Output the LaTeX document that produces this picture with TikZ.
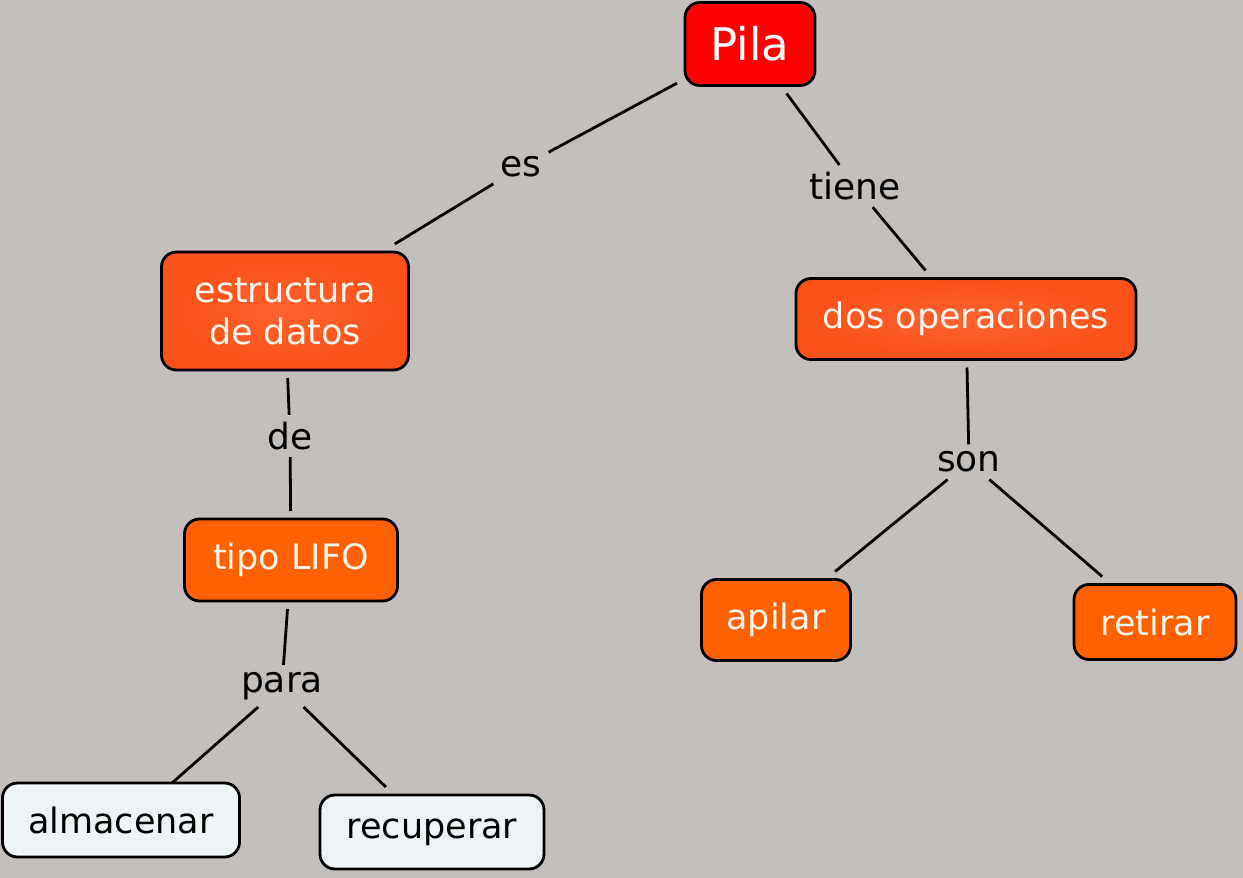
\documentclass[tikz,border=0pt]{standalone}
\usepackage{fontspec}
\setmainfont{DejaVu Sans}
\definecolor{bgC}{RGB}{195,191,188}
\definecolor{pilaC}{RGB}{255,0,0}
\definecolor{orgA}{RGB}{255,96,0}
\definecolor{orgIn}{RGB}{255,98,48}
\definecolor{orgOut}{RGB}{250,80,25}
\definecolor{lightC}{RGB}{238,243,246}
\definecolor{creamC}{RGB}{255,245,235}
\tikzset{
  box/.style={draw=black, line width=2.8pt, rounded corners=15pt, outer sep=8pt,
    align=center, inner sep=2pt, font=\fontsize{35}{42}\selectfont},
  redbox/.style={box, fill=pilaC, text=white, font=\fontsize{45}{50}\selectfont},
  orgbox/.style={box, fill=orgA, text=creamC},
  glowbox/.style={box, inner color=orgIn, outer color=orgOut, text=creamC},
  lightbox/.style={box, fill=lightC, text=black},
  lbl/.style={inner sep=7pt, text=black, font=\fontsize{36}{42}\selectfont},
  conn/.style={draw=black, line width=2.8pt}
}
\begin{document}
\begin{tikzpicture}[x=1pt,y=-1pt]
\fill[bgC] (0,0) rectangle (1243,878);
\useasboundingbox (0,0) rectangle (1243,878);

\node[redbox, minimum width=130pt, minimum height=83pt] (pila) at (750,44) {Pila};
\node[glowbox, minimum width=247pt, minimum height=118pt] (est) at (285,311) {estructura\\de datos};
\node[orgbox, minimum width=213pt, minimum height=82pt] (lifo) at (291,560) {tipo LIFO};
\node[glowbox, minimum width=340pt, minimum height=81pt] (dos) at (966,319) {dos operaciones};
\node[orgbox, minimum width=149pt, minimum height=81pt] (api) at (776,620) {apilar};
\node[orgbox, minimum width=162pt, minimum height=75pt] (ret) at (1155,622) {retirar};
\node[lightbox, minimum width=237pt, minimum height=74pt] (alm) at (121,820) {almacenar};
\node[lightbox, minimum width=224pt, minimum height=74pt] (rec) at (432,832) {recuperar};

\node[lbl] (es) at (521,167) {es};
\node[lbl] (tiene) at (855,186) {tiene};
\node[lbl] (de) at (290,436) {de};
\node[lbl] (son) at (969,462) {son};
\node[lbl] (para) at (282,686) {para};

\draw[conn] (pila) -- (es);
\draw[conn] (es) -- (est);
\draw[conn] (pila) -- (tiene);
\draw[conn] (tiene) -- (dos);
\draw[conn] (est) -- (de);
\draw[conn] (de) -- (lifo);
\draw[conn] (dos) -- (son);
\draw[conn] (son) -- (api);
\draw[conn] (son) -- (ret);
\draw[conn] (lifo) -- (para);
\draw[conn] (para) -- ([xshift=51pt,yshift=-8pt]alm.north);
\draw[conn] (para) -- (rec);
\end{tikzpicture}
\end{document}
